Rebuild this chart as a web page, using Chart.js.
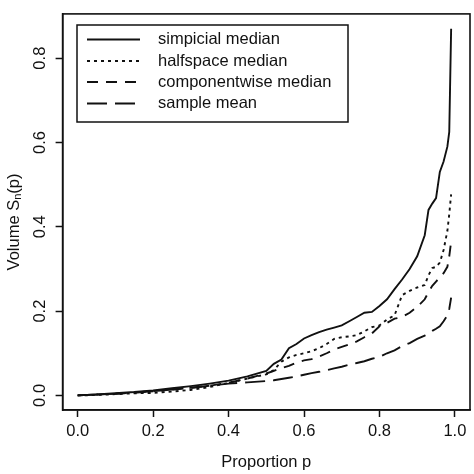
<!DOCTYPE html>
<html>
<head>
<meta charset="utf-8">
<script src="https://cdn.jsdelivr.net/npm/chart.js@4"></script>
<style>
  html, body { margin: 0; padding: 0; background: #fff; }
  canvas { display: block; }
</style>
</head>
<body>
<canvas id="volumeChart" width="474" height="474"></canvas>
<script>
// Proportion p (shared x values for every curve)
const pValues = [0, 0.05, 0.1, 0.15, 0.2, 0.25, 0.3, 0.35, 0.4, 0.45, 0.5, 0.52, 0.54, 0.56, 0.58, 0.6, 0.62, 0.64, 0.66, 0.68, 0.7, 0.72, 0.74, 0.76, 0.78, 0.8, 0.82, 0.84, 0.86, 0.88, 0.9, 0.92, 0.93, 0.94, 0.95, 0.96, 0.97, 0.98, 0.985, 0.99];

// Volume S_n(p) per estimator
const simplicial = [0, 0.002, 0.005, 0.008, 0.012, 0.017, 0.022, 0.028, 0.035, 0.045, 0.058, 0.075, 0.085, 0.112, 0.122, 0.135, 0.143, 0.15, 0.156, 0.161, 0.166, 0.176, 0.186, 0.196, 0.198, 0.212, 0.228, 0.252, 0.275, 0.3, 0.33, 0.38, 0.44, 0.455, 0.468, 0.53, 0.555, 0.59, 0.625, 0.87];
const halfspace = [0, 0.001, 0.003, 0.005, 0.006, 0.009, 0.013, 0.02, 0.03, 0.04, 0.05, 0.06, 0.08, 0.09, 0.096, 0.1, 0.105, 0.112, 0.122, 0.134, 0.138, 0.14, 0.143, 0.152, 0.162, 0.166, 0.18, 0.19, 0.238, 0.248, 0.256, 0.262, 0.285, 0.302, 0.305, 0.315, 0.345, 0.39, 0.43, 0.477];
const componentwise = [0, 0.002, 0.004, 0.007, 0.01, 0.014, 0.018, 0.023, 0.03, 0.04, 0.052, 0.058, 0.065, 0.07, 0.078, 0.083, 0.086, 0.092, 0.1, 0.109, 0.115, 0.121, 0.128, 0.138, 0.147, 0.164, 0.172, 0.182, 0.186, 0.196, 0.21, 0.228, 0.245, 0.26, 0.27, 0.28, 0.29, 0.305, 0.33, 0.365];
const sampleMean = [0, 0.002, 0.004, 0.007, 0.01, 0.014, 0.018, 0.023, 0.028, 0.031, 0.034, 0.036, 0.039, 0.042, 0.045, 0.049, 0.053, 0.056, 0.06, 0.064, 0.068, 0.073, 0.077, 0.081, 0.087, 0.091, 0.1, 0.107, 0.117, 0.124, 0.134, 0.142, 0.147, 0.153, 0.158, 0.164, 0.176, 0.19, 0.205, 0.232];

const seriesLabels = ['simpicial median', 'halfspace median', 'componentwise median', 'sample mean'];

// Tick labels
const xTicks = [0, 0.2, 0.4, 0.6, 0.8, 1.0];
const yTicks = [0, 0.2, 0.4, 0.6, 0.8];

const FONT = "'Liberation Sans', Arial, Helvetica, sans-serif";
const INK = '#111';

function toPoints(ys) {
  return pValues.map((p, i) => ({ x: p, y: ys[i] }));
}

function makeDataset(label, ys, dash) {
  return {
    label: label,
    data: toPoints(ys),
    borderColor: INK,
    borderWidth: 1.9,
    borderDash: dash,
    pointRadius: 0,
    tension: 0,
    fill: false
  };
}

// Box around the plot region
const boxPlugin = {
  id: 'plotBox',
  afterDraw(chart) {
    const { ctx, chartArea: a } = chart;
    ctx.save();
    ctx.strokeStyle = INK;
    ctx.lineWidth = 1.6;
    ctx.strokeRect(a.left, a.top, a.right - a.left, a.bottom - a.top);
    ctx.restore();
  }
};

// Legend drawn inside the plot, with a frame
const legendPlugin = {
  id: 'boxedLegend',
  afterDraw(chart) {
    const ctx = chart.ctx;
    const left = 77, top = 25, right = 348, bottom = 122;
    const rows = [39.5, 61, 82, 103.5];
    ctx.save();
    ctx.strokeStyle = INK;
    ctx.lineWidth = 1.5;
    ctx.strokeRect(left, top, right - left, bottom - top);
    ctx.font = '16.5px ' + FONT;
    ctx.fillStyle = INK;
    ctx.textBaseline = 'middle';
    chart.data.datasets.forEach((ds, i) => {
      ctx.beginPath();
      ctx.setLineDash(ds.borderDash || []);
      ctx.lineWidth = ds.borderWidth;
      ctx.moveTo(87, rows[i]);
      ctx.lineTo(140, rows[i]);
      ctx.stroke();
      ctx.setLineDash([]);
      ctx.fillText(ds.label, 158, rows[i]);
    });
    ctx.restore();
  }
};

// Y axis title with subscript n
const yTitlePlugin = {
  id: 'yTitle',
  afterDraw(chart) {
    const ctx = chart.ctx;
    const big = '16.5px ' + FONT, small = '11px ' + FONT;
    const parts = [['Volume S', big, 0], ['n', small, 4], ['(p)', big, 0]];
    ctx.save();
    let total = 0;
    parts.forEach(pt => { ctx.font = pt[1]; total += ctx.measureText(pt[0]).width; });
    ctx.translate(14, 222);
    ctx.rotate(-Math.PI / 2);
    ctx.fillStyle = INK;
    ctx.textBaseline = 'middle';
    let x = -total / 2;
    parts.forEach(pt => {
      ctx.font = pt[1];
      ctx.fillText(pt[0], x, pt[2]);
      x += ctx.measureText(pt[0]).width;
    });
    ctx.restore();
  }
};

new Chart(document.getElementById('volumeChart'), {
  type: 'line',
  data: {
    datasets: [
      makeDataset(seriesLabels[0], simplicial, []),
      makeDataset(seriesLabels[1], halfspace, [3, 4]),
      makeDataset(seriesLabels[2], componentwise, [11, 8]),
      makeDataset(seriesLabels[3], sampleMean, [20, 8])
    ]
  },
  options: {
    responsive: false,
    animation: false,
    devicePixelRatio: 1,
    layout: { padding: { top: 3, right: 4, bottom: 0, left: 0 } },
    plugins: { legend: { display: false }, tooltip: { enabled: false } },
    scales: {
      x: {
        type: 'linear',
        min: -0.04,
        max: 1.04,
        afterBuildTicks: s => { s.ticks = xTicks.map(v => ({ value: v })); },
        afterFit: s => { s.height = 64; },
        ticks: {
          autoSkip: false,
          maxRotation: 0,
          padding: 5,
          color: INK,
          font: { family: FONT, size: 16.5 },
          callback: v => v.toFixed(1)
        },
        grid: { drawOnChartArea: false, drawTicks: true, tickLength: 7, tickColor: INK, tickWidth: 1.5 },
        border: { display: true, color: INK, width: 1.6 },
        title: {
          display: true,
          text: 'Proportion p',
          color: INK,
          font: { family: FONT, size: 16.5 },
          padding: { top: 0, bottom: 2 }
        }
      },
      y: {
        type: 'linear',
        min: -0.0346,
        max: 0.905,
        afterBuildTicks: s => { s.ticks = yTicks.map(v => ({ value: v })); },
        afterFit: s => { s.width = 62.6; },
        ticks: {
          autoSkip: false,
          minRotation: 90,
          maxRotation: 90,
          crossAlign: 'center',
          padding: 4,
          color: INK,
          font: { family: FONT, size: 16.5 },
          callback: v => v.toFixed(1)
        },
        grid: { drawOnChartArea: false, drawTicks: true, tickLength: 7, tickColor: INK, tickWidth: 1.5 },
        border: { display: true, color: INK, width: 1.6 }
      }
    }
  },
  plugins: [boxPlugin, legendPlugin, yTitlePlugin]
});
</script>
</body>
</html>
